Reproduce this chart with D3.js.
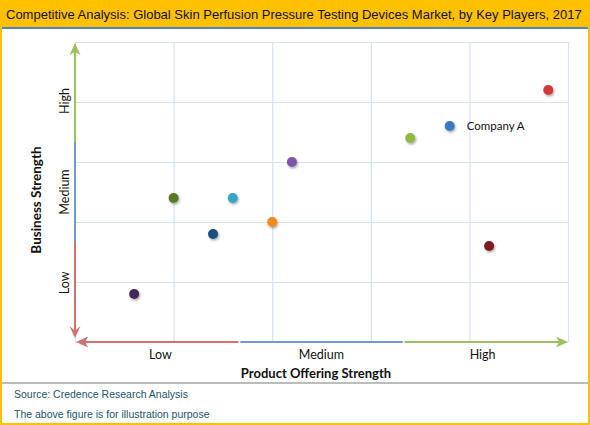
<!DOCTYPE html>
<html>
<head>
<meta charset="utf-8">
<script src="https://cdn.jsdelivr.net/npm/d3@7/dist/d3.min.js"></script>
<style>
  body { margin: 0; background: #fff; }
  svg { display: block; }
</style>
</head>
<body>
<div id="chart"></div>
<script>
// Chart data
var players = ["Player 1", "Company A", "Player 3", "Player 4", "Player 5",
  "Player 6", "Player 7", "Player 8", "Player 9", "Player 10"];
var productStrength = [4.8, 3.8, 3.4, 4.2, 2.2, 1.0, 1.6, 2.0, 1.4, 0.6];
var businessStrength = [4.2, 3.6, 3.4, 1.6, 3.0, 2.4, 2.4, 2.0, 1.8, 0.8];
var labelledPlayers = ["Company A"];
var levels = ["Low", "Medium", "High"];
var gridTicks = [0, 1, 2, 3, 4, 5];

// Styles
var dotColors = ["#d23a37", "#3b78c4", "#8fba3f", "#7c1b1b", "#7f55aa",
  "#5a7a22", "#31a7ca", "#f38a1e", "#1f4d80", "#3e2958"];
var levelColors = ["#d4706f", "#6f9bd3", "#9fc05e"];

var svgWidth = 590;
var svgHeight = 425;

var plot = { left: 75, right: 568, top: 42, bottom: 342 };

var svg = d3.select("#chart")
  .append("svg")
  .attr("width", svgWidth)
  .attr("height", svgHeight);

// Drop shadow for the dots
var defs = svg.append("defs");
var shadow = defs.append("filter")
  .attr("id", "dotShadow")
  .attr("x", "-50%").attr("y", "-50%")
  .attr("width", "200%").attr("height", "200%");
shadow.append("feDropShadow")
  .attr("dx", 1)
  .attr("dy", 1.5)
  .attr("stdDeviation", 1)
  .attr("flood-color", "#000")
  .attr("flood-opacity", 0.35);

// Background + title bar
svg.append("rect")
  .attr("x", 0).attr("y", 0)
  .attr("width", svgWidth).attr("height", svgHeight)
  .attr("fill", "#fff");

svg.append("rect")
  .attr("x", 0).attr("y", 0)
  .attr("width", svgWidth).attr("height", 27)
  .attr("fill", "#ffc000");

svg.append("line")
  .attr("x1", 2).attr("x2", svgWidth - 2)
  .attr("y1", 28).attr("y2", 28)
  .attr("stroke", "#5482bd")
  .attr("stroke-width", 2);

svg.append("text")
  .attr("x", 6)
  .attr("y", 18.5)
  .attr("font-family", "Liberation Sans, Arial, sans-serif")
  .attr("font-size", 13)
  .attr("fill", "#111")
  .text("Competitive Analysis: Global Skin Perfusion Pressure Testing Devices Market, by Key Players, 2017");

// Scales
var xScale = d3.scaleLinear().domain([0, 5]).range([plot.left, plot.right]);
var yScale = d3.scaleLinear().domain([0, 5]).range([plot.bottom, plot.top]);

var xBand = d3.scaleBand().domain(levels).range([plot.left, plot.right]);
var yBand = d3.scaleBand().domain(levels).range([plot.bottom, plot.top]);

var xLabel = d3.scalePoint().domain(levels).range([plot.left, plot.right]).padding(0.53);
var yLabel = d3.scalePoint().domain(levels).range([plot.bottom, plot.top]).padding(0.65);

// Gridlines
var xGrid = svg.append("g")
  .attr("transform", `translate(0, ${plot.bottom})`)
  .call(d3.axisBottom(xScale)
    .tickValues(gridTicks)
    .tickSize(-(plot.bottom - plot.top))
    .tickFormat(""));

var yGrid = svg.append("g")
  .attr("transform", `translate(${plot.left}, 0)`)
  .call(d3.axisLeft(yScale)
    .tickValues(gridTicks)
    .tickSize(-(plot.right - plot.left))
    .tickFormat(""));

svg.selectAll(".domain").remove();
svg.selectAll(".tick line")
  .attr("stroke", "#d5e3f4")
  .attr("stroke-width", 1.2);

// Colored level axes
var axisGroup = svg.append("g");

levels.forEach(function(level, i) {
  // horizontal segment
  axisGroup.append("line")
    .attr("x1", xBand(level) + (i === 0 ? 8 : 1))
    .attr("x2", xBand(level) + xBand.bandwidth() - (i === 2 ? 9 : 1))
    .attr("y1", plot.bottom).attr("y2", plot.bottom)
    .attr("stroke", levelColors[i])
    .attr("stroke-width", 2);

  // vertical segment
  axisGroup.append("line")
    .attr("x1", plot.left).attr("x2", plot.left)
    .attr("y1", yBand(level) + yBand.bandwidth() - (i === 0 ? 8 : 0))
    .attr("y2", yBand(level) + (i === 2 ? 9 : 0))
    .attr("stroke", levelColors[i])
    .attr("stroke-width", 2);
});

// arrowheads
var head = 12, half = 5.5;
axisGroup.append("path")   // up (green)
  .attr("d", `M${plot.left},${plot.top + 1} L${plot.left - half},${plot.top + 1 + head} L${plot.left},${plot.top + head - 2} L${plot.left + half},${plot.top + 1 + head} Z`)
  .attr("fill", levelColors[2]);
axisGroup.append("path")   // down (red)
  .attr("d", `M${plot.left},${plot.bottom - 4} L${plot.left - half},${plot.bottom - 4 - head} L${plot.left},${plot.bottom - head + 1} L${plot.left + half},${plot.bottom - 4 - head} Z`)
  .attr("fill", levelColors[0]);
axisGroup.append("path")   // left (red)
  .attr("d", `M${plot.left + 1},${plot.bottom} L${plot.left + 1 + head},${plot.bottom - half} L${plot.left + head - 2},${plot.bottom} L${plot.left + 1 + head},${plot.bottom + half} Z`)
  .attr("fill", levelColors[0]);
axisGroup.append("path")   // right (green)
  .attr("d", `M${plot.right},${plot.bottom} L${plot.right - head},${plot.bottom - half} L${plot.right - head + 3},${plot.bottom} L${plot.right - head},${plot.bottom + half} Z`)
  .attr("fill", levelColors[2]);

// Level labels
var labelFont = "Lato, 'Open Sans', sans-serif";

svg.append("g").selectAll("text")
  .data(levels)
  .enter()
  .append("text")
  .attr("x", d => xLabel(d))
  .attr("y", 359)
  .attr("text-anchor", "middle")
  .attr("font-family", labelFont)
  .attr("font-size", 12.5)
  .attr("fill", "#111")
  .text(d => d);

svg.append("g").selectAll("text")
  .data(levels)
  .enter()
  .append("text")
  .attr("transform", d => `translate(69, ${yLabel(d)}) rotate(-90)`)
  .attr("text-anchor", "middle")
  .attr("font-family", labelFont)
  .attr("font-size", 12.5)
  .attr("fill", "#111")
  .text(d => d);

// Axis titles
svg.append("text")
  .attr("x", 316)
  .attr("y", 378)
  .attr("text-anchor", "middle")
  .attr("font-family", labelFont)
  .attr("font-weight", "bold")
  .attr("font-size", 13)
  .attr("fill", "#111")
  .text("Product Offering Strength");

svg.append("text")
  .attr("transform", "translate(41, 200) rotate(-90)")
  .attr("text-anchor", "middle")
  .attr("font-family", labelFont)
  .attr("font-weight", "bold")
  .attr("font-size", 13.5)
  .attr("fill", "#111")
  .text("Business Strength");

// Player dots
var dotsGroup = svg.append("g");

dotsGroup.selectAll("circle")
  .data(players)
  .enter()
  .append("circle")
  .attr("cx", (d, i) => xScale(productStrength[i]))
  .attr("cy", (d, i) => yScale(businessStrength[i]))
  .attr("r", 5)
  .attr("fill", (d, i) => dotColors[i])
  .attr("filter", "url(#dotShadow)");

dotsGroup.selectAll("text")
  .data(players.filter(d => labelledPlayers.indexOf(d) >= 0))
  .enter()
  .append("text")
  .attr("x", d => xScale(productStrength[players.indexOf(d)]) + 17)
  .attr("y", d => yScale(businessStrength[players.indexOf(d)]) + 4)
  .attr("font-family", labelFont)
  .attr("font-size", 11.5)
  .attr("fill", "#111")
  .text(d => d);

// Footer
svg.append("line")
  .attr("x1", 2).attr("x2", svgWidth - 2)
  .attr("y1", 383).attr("y2", 383)
  .attr("stroke", "#a6a6a6")
  .attr("stroke-width", 1.5);

var footer = ["Source: Credence Research Analysis", "The above figure is for illustration purpose"];
svg.append("g").selectAll("text")
  .data(footer)
  .enter()
  .append("text")
  .attr("x", 14)
  .attr("y", (d, i) => 398 + i * 20)
  .attr("font-family", "Liberation Sans, Arial, sans-serif")
  .attr("font-size", 10.5)
  .attr("fill", "#24566a")
  .text(d => d);

// Outer gold border
svg.append("rect")
  .attr("x", 1).attr("y", 1)
  .attr("width", svgWidth - 2).attr("height", svgHeight - 2)
  .attr("fill", "none")
  .attr("stroke", "#ffc000")
  .attr("stroke-width", 2);
</script>
</body>
</html>
